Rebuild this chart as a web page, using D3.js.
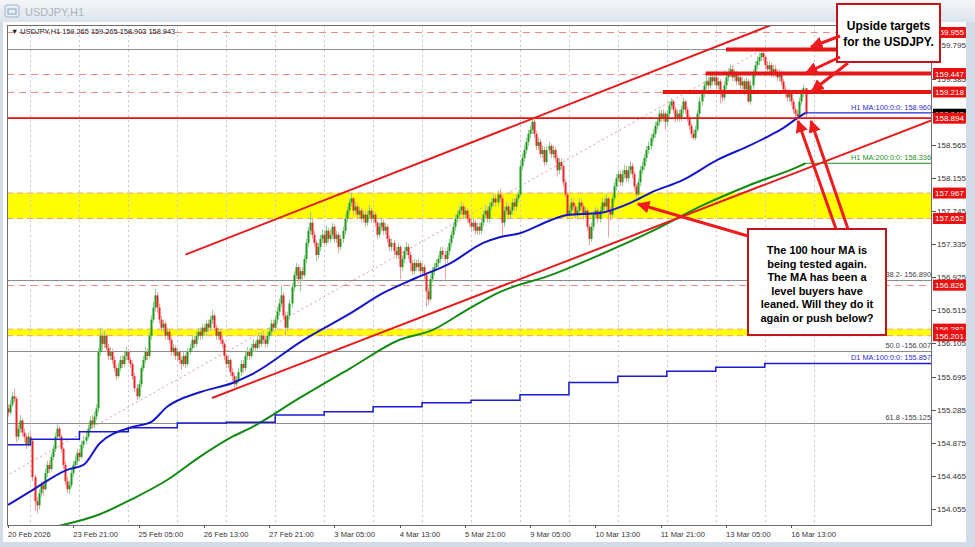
<!DOCTYPE html>
<html><head><meta charset="utf-8">
<script src="https://cdn.jsdelivr.net/npm/d3@7"></script>
<style>
html,body{margin:0;padding:0;background:#d9e1ea;}
svg{display:block;}
</style></head><body>
<svg id="c" width="975" height="547"></svg>
<script>
// ---------------- DATA ----------------
const symbolHeader = "▼ USDJPY,H1  159.265 159.265 158.903 158.943";
const windowTitle = "USDJPY,H1";
const firstOpen = 155.30;
const closes = [
155.25,155.35,155.45,155.42,154.95,155.05,155.15,155.00,154.95,154.85,154.95,154.90,
154.45,154.15,154.10,154.25,154.35,154.30,154.50,154.60,154.55,154.70,154.80,154.95,
155.05,154.95,154.80,154.60,154.40,154.30,154.35,154.50,154.60,154.65,154.75,154.70,
154.85,154.90,154.95,155.05,155.15,155.10,155.20,155.30,156.00,156.20,156.10,156.20,
156.05,155.95,156.00,155.90,155.80,155.70,155.80,155.90,155.85,155.95,156.00,155.90,
155.85,155.70,155.55,155.45,155.60,155.80,155.90,156.00,155.95,156.20,156.40,156.55,
156.70,156.55,156.40,156.30,156.35,156.20,156.25,156.15,156.00,156.05,155.95,156.00,
155.90,155.85,155.95,155.85,156.00,156.05,156.15,156.10,156.20,156.25,156.20,156.30,
156.25,156.35,156.30,156.40,156.45,156.30,156.20,156.25,156.15,156.10,155.95,155.85,
155.90,155.75,155.70,155.60,155.65,155.75,155.85,155.80,155.95,156.00,155.95,156.05,
156.10,156.05,156.15,156.10,156.20,156.15,156.10,156.20,156.25,156.35,156.30,156.40,
156.50,156.60,156.70,156.45,156.30,156.45,156.60,156.80,156.95,157.05,156.90,157.00,
156.95,157.15,157.35,157.50,157.60,157.45,157.35,157.20,157.30,157.40,157.45,157.35,
157.50,157.40,157.45,157.55,157.40,157.45,157.30,157.40,157.50,157.65,157.75,157.85,
157.90,157.75,157.80,157.70,157.75,157.65,157.70,157.60,157.70,157.75,157.65,157.70,
157.60,157.45,157.55,157.60,157.50,157.55,157.40,157.30,157.35,157.25,157.20,157.30,
157.05,157.15,157.25,157.30,157.20,157.10,157.00,157.10,157.05,157.10,157.00,157.05,
156.95,156.75,156.65,156.90,157.00,157.05,157.10,157.15,157.25,157.20,157.15,157.25,
157.35,157.45,157.55,157.65,157.70,157.75,157.80,157.70,157.75,157.65,157.60,157.55,
157.60,157.50,157.55,157.50,157.60,157.70,157.75,157.65,157.80,157.85,157.90,157.85,
157.95,157.90,157.60,157.75,157.80,157.70,157.75,157.85,157.80,157.90,157.95,158.30,
158.40,158.50,158.60,158.70,158.75,158.85,158.70,158.55,158.60,158.45,158.50,158.35,
158.50,158.55,158.45,158.50,158.40,158.25,158.35,158.30,158.10,157.95,157.70,157.75,
157.85,157.80,157.70,157.75,157.85,157.80,157.70,157.75,157.55,157.40,157.55,157.70,
157.75,157.65,157.75,157.85,157.80,157.90,157.75,157.70,157.90,158.05,158.15,158.20,
158.10,158.20,158.25,158.15,158.25,158.30,158.20,158.05,157.95,158.10,158.25,158.30,
158.40,158.50,158.55,158.65,158.70,158.80,158.85,158.95,158.90,158.95,158.85,158.95,
159.05,159.10,159.00,158.90,158.95,158.90,159.00,159.10,159.00,158.90,158.80,158.70,
158.65,158.75,158.95,159.10,159.20,159.30,159.35,159.30,159.40,159.35,159.40,159.30,
159.35,159.20,159.15,159.30,159.40,159.45,159.50,159.40,159.45,159.35,159.40,159.30,
159.35,159.25,159.35,159.10,159.30,159.45,159.55,159.60,159.65,159.70,159.65,159.55,
159.50,159.55,159.45,159.50,159.45,159.40,159.45,159.35,159.25,159.20,159.15,159.20,
159.10,159.00,158.95,158.92,159.10,159.20,159.265,158.943];
const highs = [
155.35,155.40,155.50,155.55,155.45,155.10,155.22,155.18,155.05,154.98,155.00,155.00,
154.92,154.48,154.20,154.30,154.40,154.40,154.55,154.65,154.66,154.75,154.85,155.00,
155.10,155.08,154.98,154.82,154.65,154.45,154.40,154.55,154.65,154.72,154.80,154.80,
154.90,154.96,155.02,155.10,155.20,155.22,155.26,155.35,156.05,156.30,156.25,156.26,
156.22,156.10,156.06,156.04,155.95,155.84,155.86,155.95,155.96,156.00,156.06,156.04,
155.94,155.88,155.74,155.60,155.65,155.84,155.95,156.06,156.04,156.25,156.45,156.62,
156.78,156.74,156.60,156.45,156.40,156.38,156.30,156.28,156.18,156.10,156.08,156.05,
156.02,155.94,156.00,155.98,156.04,156.10,156.20,156.20,156.25,156.30,156.30,156.35,
156.34,156.40,156.40,156.45,156.52,156.48,156.34,156.30,156.28,156.20,156.12,155.98,
155.96,155.92,155.80,155.74,155.70,155.80,155.90,155.90,156.00,156.06,156.04,156.10,
156.16,156.14,156.20,156.20,156.25,156.24,156.20,156.25,156.30,156.40,156.40,156.45,
156.56,156.66,156.82,156.74,156.50,156.50,156.65,156.85,157.00,157.10,157.08,157.05,
157.05,157.20,157.40,157.55,157.73,157.65,157.50,157.38,157.35,157.45,157.52,157.50,
157.56,157.54,157.52,157.60,157.58,157.50,157.48,157.45,157.55,157.70,157.80,157.90,
157.97,157.92,157.86,157.84,157.80,157.78,157.76,157.74,157.75,157.82,157.78,157.75,
157.74,157.62,157.60,157.66,157.64,157.60,157.58,157.44,157.40,157.38,157.30,157.35,
157.32,157.20,157.30,157.36,157.34,157.24,157.14,157.15,157.14,157.15,157.13,157.10,
157.08,156.98,156.80,156.95,157.05,157.10,157.15,157.20,157.30,157.30,157.25,157.30,
157.40,157.50,157.60,157.70,157.76,157.80,157.86,157.84,157.80,157.78,157.70,157.65,
157.65,157.64,157.60,157.60,157.65,157.75,157.82,157.80,157.85,157.90,157.95,157.95,
158.00,158.02,157.92,157.80,157.86,157.84,157.80,157.90,157.90,157.95,158.00,158.35,
158.46,158.56,158.65,158.75,158.80,158.90,158.88,158.74,158.66,158.64,158.56,158.54,
158.55,158.60,158.58,158.56,158.54,158.44,158.40,158.40,158.32,158.14,157.98,157.82,
157.90,157.90,157.84,157.80,157.90,157.90,157.84,157.80,157.78,157.58,157.60,157.75,
157.80,157.78,157.80,157.90,157.90,157.95,157.92,157.80,157.95,158.10,158.20,158.26,
158.24,158.25,158.32,158.30,158.30,158.36,158.34,158.24,158.08,158.15,158.30,158.36,
158.45,158.55,158.60,158.70,158.76,158.85,158.90,159.00,159.00,159.00,158.98,159.00,
159.10,159.14,159.12,159.04,159.00,159.00,159.05,159.15,159.12,159.04,158.94,158.84,
158.75,158.80,159.00,159.15,159.25,159.35,159.42,159.40,159.46,159.45,159.46,159.44,
159.40,159.38,159.25,159.35,159.45,159.50,159.56,159.54,159.50,159.48,159.46,159.44,
159.40,159.38,159.40,159.38,159.35,159.50,159.60,159.66,159.70,159.76,159.74,159.68,
159.60,159.60,159.58,159.55,159.55,159.50,159.50,159.48,159.38,159.30,159.25,159.25,
159.22,159.14,159.05,159.00,159.15,159.25,159.30,159.265];
const lows = [
155.20,155.22,155.32,155.38,154.88,154.90,155.00,154.95,154.88,154.80,154.82,154.85,
154.40,154.03,154.00,154.05,154.20,154.22,154.28,154.45,154.50,154.52,154.66,154.76,
154.92,154.90,154.75,154.55,154.35,154.25,154.24,154.32,154.45,154.55,154.60,154.65,
154.68,154.80,154.86,154.92,155.02,155.05,155.06,155.15,155.25,155.95,156.02,156.05,
156.00,155.90,155.90,155.85,155.75,155.65,155.68,155.76,155.80,155.82,155.90,155.86,
155.80,155.65,155.50,155.40,155.42,155.56,155.76,155.86,155.90,155.92,156.15,156.36,
156.50,156.48,156.35,156.25,156.25,156.15,156.15,156.10,155.95,155.96,155.90,155.90,
155.85,155.78,155.82,155.80,155.82,155.96,156.02,156.05,156.06,156.15,156.15,156.16,
156.20,156.20,156.25,156.26,156.35,156.26,156.15,156.15,156.10,156.05,155.90,155.80,
155.80,155.70,155.64,155.55,155.56,155.62,155.70,155.74,155.76,155.90,155.90,155.92,
156.00,156.00,156.02,156.05,156.06,156.10,156.05,156.06,156.15,156.20,156.25,156.26,
156.35,156.45,156.55,156.40,156.20,156.26,156.40,156.55,156.75,156.90,156.85,156.75,
156.88,156.92,157.10,157.30,157.45,157.40,157.30,157.12,157.15,157.25,157.35,157.30,
157.32,157.35,157.35,157.40,157.35,157.35,157.22,157.26,157.35,157.45,157.60,157.70,
157.80,157.70,157.70,157.65,157.65,157.60,157.60,157.55,157.56,157.65,157.60,157.60,
157.55,157.40,157.42,157.50,157.45,157.45,157.35,157.25,157.25,157.20,157.15,157.15,
156.90,157.00,157.10,157.20,157.15,157.00,156.95,156.96,157.00,157.00,156.95,156.96,
156.90,156.56,156.58,156.62,156.86,156.95,157.00,157.05,157.10,157.15,156.90,157.10,
157.20,157.30,157.40,157.50,157.60,157.65,157.70,157.65,157.65,157.60,157.55,157.50,
157.50,157.45,157.45,157.45,157.46,157.55,157.65,157.60,157.60,157.75,157.80,157.80,
157.80,157.85,157.42,157.55,157.70,157.65,157.65,157.70,157.75,157.76,157.85,157.92,
158.25,158.35,158.45,158.55,158.65,158.70,158.65,158.50,158.50,158.40,158.40,158.30,
158.32,158.45,158.40,158.40,158.35,158.17,158.20,158.25,158.05,157.92,157.64,157.65,
157.70,157.75,157.65,157.64,157.70,157.75,157.64,157.65,157.50,157.32,157.36,157.50,
157.65,157.60,157.60,157.70,157.75,157.75,157.42,157.62,157.66,157.85,158.00,158.10,
158.05,158.05,158.15,158.10,158.10,158.20,158.15,158.00,157.90,157.92,158.05,158.20,
158.25,158.35,158.45,158.50,158.60,158.65,158.75,158.80,158.85,158.85,158.75,158.80,
158.90,159.00,158.95,158.85,158.85,158.85,158.86,158.95,158.95,158.85,158.75,158.65,
158.62,158.62,158.72,158.90,159.05,159.15,159.25,159.25,159.26,159.30,159.30,159.25,
159.25,159.08,159.10,159.12,159.25,159.35,159.40,159.35,159.35,159.30,159.30,159.25,
159.25,159.18,159.20,159.08,159.06,159.25,159.40,159.50,159.55,159.60,159.60,159.50,
159.45,159.45,159.40,159.40,159.40,159.35,159.35,159.30,159.20,159.15,159.10,159.10,
159.05,158.95,158.90,158.88,158.90,159.05,159.15,158.903];

const timeLabelBars = [0,32,64,96,128,160,192,224,256,288,320,352,384];
const timeLabels = ["20 Feb 2026","23 Feb 21:00","25 Feb 05:00","26 Feb 13:00","27 Feb 21:00","3 Mar 05:00","4 Mar 13:00","5 Mar 21:00","9 Mar 05:00","10 Mar 13:00","11 Mar 21:00","13 Mar 05:00","16 Mar 13:00"];
const dayStartBars = [11,35,59,83,107,131,155,179,203,227,251,275,299,323,347,371,395];
const priceTicks = [154.055,154.465,154.875,155.285,155.695,156.105,156.515,156.925,157.335,157.745,158.155,158.565,158.975,159.385,159.795];
const priceTickLabels = ["154.055","154.465","154.875","155.285","155.695","156.105","156.515","156.925","157.335","157.745","158.155","158.565","158.975","159.385","159.795"];

const ma100H1 = [[0,154.105],[12,154.29],[29,154.54],[37,154.60],[45,154.87],[61,155.07],[70,155.13],[78,155.32],[94,155.50],[110,155.615],[119,155.715],[145,156.15],[168,156.48],[184,156.73],[200,156.915],[217,157.10],[233,157.35],[241,157.42],[251,157.47],[266,157.63],[274,157.695],[290,157.72],[306,157.855],[315,157.97],[331,158.13],[348,158.38],[364,158.56],[372,158.66],[380,158.77],[387,158.895],[391,158.96]];
const ma200H1 = [[24,153.84],[45,153.99],[61,154.18],[78,154.414],[94,154.70],[110,154.95],[119,155.06],[143,155.43],[168,155.80],[192,156.15],[208,156.27],[225,156.52],[241,156.74],[266,156.95],[290,157.20],[315,157.485],[341,157.82],[364,158.07],[388,158.30],[391,158.336]];
const ma100D1 = [[0,154.85],[11,154.92],[35,155.01],[59,155.06],[83,155.12],[107,155.13],[131,155.22],[155,155.26],[179,155.32],[203,155.37],[227,155.40],[251,155.47],[275,155.62],[299,155.70],[323,155.76],[347,155.81],[371,155.857]];
const maLabels = ["H1 MA:100:0:0: 158.960","H1 MA:200:0:0: 158.336","D1 MA:100:0:0: 155.857"];
const maLabelValues = [158.960,158.336,155.857];

const fibLevels = [159.745,156.890,156.007,155.125];
const fibLabels = ["","38.2- 156.890","50.0 -156.007","61.8 -155.125"];
const fibAnchors = [[-155,152.27],[370,159.745]];

const dashedLevels = [159.955,159.447,159.218,156.826];
const solidLevel = 158.894;
const yellowZones = [[157.652,157.967],[156.201,156.282]];
const targetLevels = [159.745,159.447,159.218];
const targetStartBars = [352,342,321];
const axisBoxes = [159.955,159.447,159.218,157.967,157.652,156.826,156.282,156.201,158.894];
const axisBoxLabels = ["159.955","159.447","159.218","157.967","157.652","156.826","156.282","156.201","158.894"];
const currentPrice = 158.943;

const upperChannel = [[87,157.204],[378,160.085]];
const lowerChannel = [[100,155.43],[453,158.87]];

const note1 = ["Upside targets","for the USDJPY."];
const note2 = ["The 100 hour MA is","being tested again.","The MA has been a","level buyers have","leaned. Will they do it","again or push below?"];

// ---------------- DRAW ----------------
const svg = d3.select("#c");
const P = {l:7, r:932, t:25, b:525};
const x = d3.scaleLinear().domain([0,453]).range([8,932]);
const y = d3.scaleLinear().domain([154.055,159.795]).range([509,45.4]);
const F = "Liberation Sans, Arial";

const defs = svg.append("defs");
const grad = defs.append("linearGradient").attr("id","tb").attr("x1",0).attr("y1",0).attr("x2",0).attr("y2",1);
grad.append("stop").attr("offset","0%").attr("stop-color","#f3f6f9");
grad.append("stop").attr("offset","100%").attr("stop-color","#dde4ec");
defs.append("clipPath").attr("id","clip").append("rect")
  .attr("x",P.l).attr("y",P.t).attr("width",P.r-P.l).attr("height",P.b-P.t);
defs.append("marker").attr("id","arr").attr("viewBox","0 0 10 10")
  .attr("refX",9).attr("refY",5).attr("markerWidth",4.2).attr("markerHeight",4.2)
  .attr("orient","auto-start-reverse")
  .append("path").attr("d","M0,0 L10,5 L0,10 z").attr("fill","#ee1c1c");

// window chrome
svg.append("rect").attr("width",975).attr("height",547).attr("fill","#d3dce6");
svg.append("rect").attr("width",975).attr("height",22).attr("fill","url(#tb)");
svg.append("rect").attr("x",5).attr("y",5).attr("width",14).attr("height",12).attr("rx",2)
  .attr("fill","#e8eef5").attr("stroke","#9fb4c8");
svg.append("rect").attr("x",8).attr("y",9).attr("width",8).attr("height",5).attr("fill","none").attr("stroke","#8aa2ba");
svg.append("text").attr("x",25).attr("y",15.5).text(windowTitle)
  .attr("font-family",F).attr("font-size",11).attr("fill","#a9b3bd");
svg.append("rect").attr("x",3).attr("y",22).attr("width",963).attr("height",520).attr("fill","#ffffff");

const plot = svg.append("g").attr("clip-path","url(#clip)");

yellowZones.forEach(z=>{
  plot.append("rect").attr("x",P.l).attr("width",P.r-P.l)
    .attr("y",y(z[1])).attr("height",y(z[0])-y(z[1])).attr("fill","#ffff00");
  z.forEach(v=>plot.append("line").attr("x1",P.l).attr("x2",P.r).attr("y1",y(v)).attr("y2",y(v))
    .attr("stroke","#f2a07a").attr("stroke-width",1).attr("stroke-dasharray","6,4"));
});

plot.selectAll("line.grid").data(dayStartBars).join("line").attr("class","grid")
  .attr("x1",d=>Math.round(x(d))+0.5).attr("x2",d=>Math.round(x(d))+0.5)
  .attr("y1",P.t).attr("y2",P.b).attr("stroke","#c8c8c8").attr("stroke-dasharray","2,3");

fibLevels.forEach(v=>{
  plot.append("line").attr("x1",P.l).attr("x2",P.r).attr("y1",Math.round(y(v))+0.5).attr("y2",Math.round(y(v))+0.5)
    .attr("stroke","#8c8c8c").attr("stroke-width",1);
});
plot.append("line").attr("x1",x(fibAnchors[0][0])).attr("y1",y(fibAnchors[0][1]))
  .attr("x2",x(fibAnchors[1][0])).attr("y2",y(fibAnchors[1][1]))
  .attr("stroke","#d89a9a").attr("stroke-width",1).attr("stroke-dasharray","2,3");

dashedLevels.forEach(v=>plot.append("line").attr("x1",P.l).attr("x2",P.r)
  .attr("y1",Math.round(y(v))+0.5).attr("y2",Math.round(y(v))+0.5)
  .attr("stroke","#ee8a8a").attr("stroke-width",1).attr("stroke-dasharray","7,5"));

// candles
const opens = closes.map((c,i)=> i===0 ? firstOpen : closes[i-1]);
const bars = closes.map((c,i)=>({i,o:opens[i],h:highs[i],l:lows[i],c}));
const cg = plot.append("g");
cg.selectAll("line").data(bars).join("line")
  .attr("x1",d=>Math.round(x(d.i))+0.5).attr("x2",d=>Math.round(x(d.i))+0.5)
  .attr("y1",d=>y(d.h)).attr("y2",d=>y(d.l))
  .attr("stroke",d=>d.c>=d.o?"#8fcf8f":"#f2a0a0").attr("stroke-width",1);
cg.selectAll("rect").data(bars).join("rect")
  .attr("x",d=>Math.round(x(d.i))-0.5).attr("width",2)
  .attr("y",d=>y(Math.max(d.o,d.c))).attr("height",d=>Math.max(1,Math.abs(y(d.o)-y(d.c))))
  .attr("fill",d=>d.c>=d.o?"#1f9a1f":"#e8262a");

// moving averages
const ln = d3.line().x(d=>x(d[0])).y(d=>y(d[1])).curve(d3.curveMonotoneX);
plot.append("path").attr("d",ln(ma200H1)).attr("fill","none").attr("stroke","#138a13").attr("stroke-width",2);
plot.append("path").attr("d",ln(ma100H1)).attr("fill","none").attr("stroke","#1515c8").attr("stroke-width",2);
const stepLn = d3.line().x(d=>x(d[0])).y(d=>y(d[1])).curve(d3.curveStepAfter);
const d1pts = ma100D1.concat([[453,ma100D1[ma100D1.length-1][1]]]);
plot.append("path").attr("d",stepLn(d1pts)).attr("fill","none").attr("stroke","#1a1ad2").attr("stroke-width",1.5);
[[ma100H1,"#2a2ad0"],[ma200H1,"#1e8e1e"]].forEach(([m,col],k)=>{
  const last=m[m.length-1];
  plot.append("line").attr("x1",x(last[0])).attr("x2",P.r).attr("y1",y(maLabelValues[k])).attr("y2",y(maLabelValues[k]))
    .attr("stroke",col).attr("stroke-width",1.2);
});

plot.append("line").attr("x1",P.l).attr("x2",P.r).attr("y1",y(solidLevel)).attr("y2",y(solidLevel))
  .attr("stroke","#e81010").attr("stroke-width",1.6);

[upperChannel,lowerChannel].forEach(c=>plot.append("line")
  .attr("x1",x(c[0][0])).attr("y1",y(c[0][1])).attr("x2",x(c[1][0])).attr("y2",y(c[1][1]))
  .attr("stroke","#e51c1c").attr("stroke-width",2));

targetLevels.forEach((v,k)=>plot.append("line").attr("x1",x(targetStartBars[k])).attr("x2",P.r)
  .attr("y1",y(v)).attr("y2",y(v)).attr("stroke","#e41717").attr("stroke-width",4));

const maCols = ["#2a2ad0","#1e8e1e","#2a2ad0"];
maLabels.forEach((t,k)=>svg.append("text").attr("x",P.r-1).attr("y",y(maLabelValues[k])-3)
  .attr("text-anchor","end").attr("font-family",F).attr("font-size",7.4)
  .attr("fill",maCols[k]).text(t));
fibLabels.forEach((t,k)=>{ if(t) svg.append("text").attr("x",P.r-1).attr("y",y(fibLevels[k])-3)
  .attr("text-anchor","end").attr("font-family",F).attr("font-size",7.4)
  .attr("fill","#404040").text(t); });

svg.append("rect").attr("x",P.l+0.5).attr("y",P.t+0.5).attr("width",P.r-P.l-1).attr("height",P.b-P.t)
  .attr("fill","none").attr("stroke","#6e6e6e").attr("stroke-width",1);

svg.append("text").attr("x",11).attr("y",34).text(symbolHeader)
  .attr("font-family",F).attr("font-size",7.4).attr("fill","#202020");

priceTicks.forEach((v,k)=>{
  svg.append("line").attr("x1",P.r).attr("x2",P.r+4).attr("y1",Math.round(y(v))+0.5).attr("y2",Math.round(y(v))+0.5).attr("stroke","#555");
  svg.append("text").attr("x",P.r+5).attr("y",y(v)+3).attr("font-family",F)
    .attr("font-size",8).attr("fill","#333").text(priceTickLabels[k]);
});
timeLabelBars.forEach((b,k)=>{
  svg.append("line").attr("x1",Math.round(x(b))+0.5).attr("x2",Math.round(x(b))+0.5).attr("y1",P.b).attr("y2",P.b+3).attr("stroke","#555");
  svg.append("text").attr("x",x(b)).attr("y",P.b+11.5).attr("font-family",F)
    .attr("font-size",7.6).attr("fill","#333").text(timeLabels[k]);
});

function axisBox(v,label,fill){
  const g=svg.append("g");
  const t=g.append("text").attr("x",P.r+3).attr("y",y(v)+3).attr("font-family",F)
    .attr("font-size",8).attr("fill","#fff").text(label);
  const w=t.node().getComputedTextLength();
  g.insert("rect","text").attr("x",P.r+1).attr("y",y(v)-5.5).attr("width",w+4).attr("height",11).attr("fill",fill);
}
axisBox(currentPrice,"158.943","#000000");
axisBoxes.forEach((v,k)=>axisBox(v,axisBoxLabels[k],"#ea1010"));

function note(lines,bx,by,bw,bh,fs,lh,firstBase){
  svg.append("rect").attr("x",bx).attr("y",by).attr("width",bw).attr("height",bh)
    .attr("fill","#fff").attr("stroke","#c4141a").attr("stroke-width",2);
  lines.forEach((t,k)=>svg.append("text").attr("x",bx+bw/2).attr("y",firstBase+k*lh)
    .attr("text-anchor","middle").attr("font-family",F).attr("font-weight","bold")
    .attr("font-size",fs).attr("fill","#000").text(t));
}
note(note1,837,4,103,58,12,16,30);
note(note2,748,229,138,106,11,13.6,254);

const arrows = [
  [[840,36],[811,47]],
  [[840,57],[806,73]],
  [[848,63],[812,91]],
  [[836,229],[798,121]],
  [[848,229],[811,121]],
  [[748,236],[638,204]]
];
arrows.forEach(a=>svg.append("line").attr("x1",a[0][0]).attr("y1",a[0][1]).attr("x2",a[1][0]).attr("y2",a[1][1])
  .attr("stroke","#ee1c1c").attr("stroke-width",3).attr("marker-end","url(#arr)"));
</script>
</body></html>
